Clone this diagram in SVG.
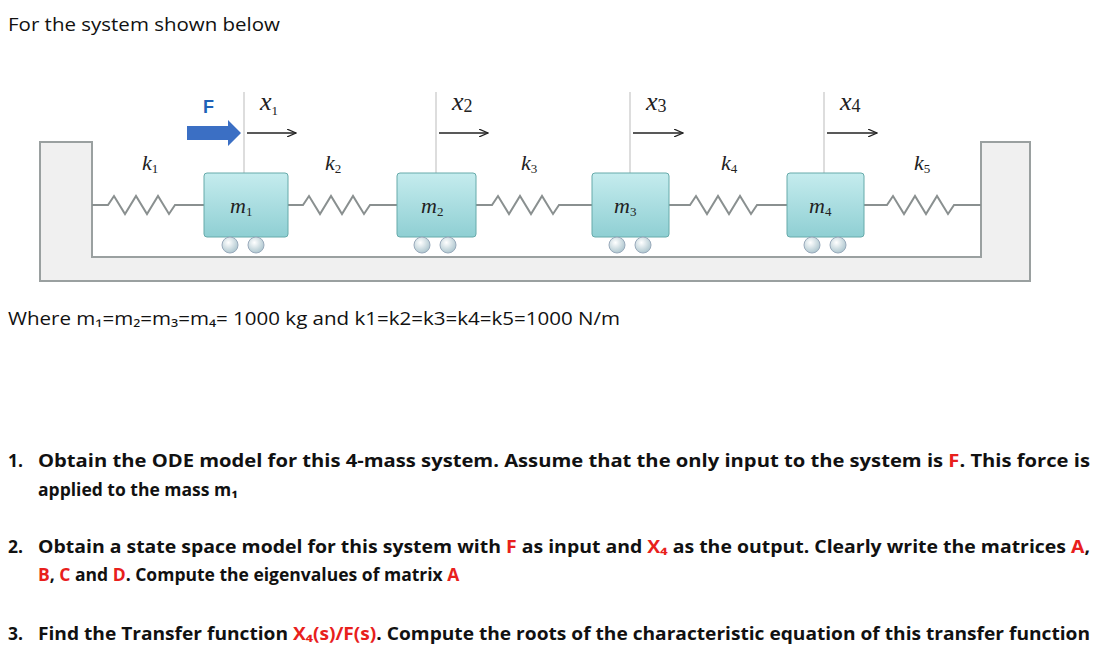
<svg xmlns="http://www.w3.org/2000/svg" width="1113" height="672" viewBox="0 0 1113 672">
<style>
.t{font-family:"Open Sans","Liberation Sans",sans-serif;font-size:18px;fill:#111}
.b{font-family:"Open Sans","Liberation Sans",sans-serif;font-size:17.5px;font-weight:bold;fill:#111}
.r{fill:#e8201c}
.m{font-family:"Liberation Serif",serif;font-style:italic;font-size:22px;fill:#222}
.x{font-size:26px}
.s{font-size:13px;font-style:normal}
.s2{font-size:18px;font-style:normal}
.sp{fill:none;stroke:#8a9090;stroke-width:2}
.mass{fill:url(#mg);stroke:#6aa;stroke-width:1}
.vl{stroke:#bbb;stroke-width:1}
.ar{stroke:#222;stroke-width:1.3;marker-end:url(#ah)}
.wh{fill:url(#wg);stroke:#9ab}
</style>
<defs>
<linearGradient id="mg" x1="0" y1="0" x2="0" y2="1"><stop offset="0" stop-color="#c5ecee"/><stop offset="1" stop-color="#8fcfd3"/></linearGradient>
<radialGradient id="wg" cx="0.4" cy="0.35" r="0.7"><stop offset="0" stop-color="#ffffff"/><stop offset="1" stop-color="#a9c3cc"/></radialGradient>
<marker id="ah" markerWidth="10" markerHeight="8" refX="9" refY="4" orient="auto" markerUnits="userSpaceOnUse"><path d="M0,0 L9,4 L0,8" fill="none" stroke="#222" stroke-width="1.2"/></marker>
</defs>
<rect width="1113" height="672" fill="#fff"/>
<text class="t" x="8" y="31" style="font-size:19px" textLength="272" lengthAdjust="spacingAndGlyphs">For the system shown below</text>
<g id="base">
<path d="M40,142 H92 V257 H981 V142 H1030 V281 H40 Z" fill="#f0f0f0" stroke="#9aa0a0" stroke-width="2"/>
</g>
<g id="connectors">
<path class="sp" d="M92,205 H108 l6,-9 l11,18 l11,-18 l11,18 l11,-18 l11,18 l6,-9 H204"/>
<path class="sp" d="M288,205 H303 l6,-9 l11,18 l11,-18 l11,18 l11,-18 l11,18 l6,-9 H397"/>
<path class="sp" d="M476,205 H492 l6,-9 l11,18 l11,-18 l11,18 l11,-18 l11,18 l6,-9 H592"/>
<path class="sp" d="M669,205 H690 l6,-9 l11,18 l11,-18 l11,18 l11,-18 l11,18 l6,-9 H787"/>
<path class="sp" d="M864,205 H887 l6,-9 l11,18 l11,-18 l11,18 l11,-18 l11,18 l6,-9 H981"/>
<line class="vl" x1="244" y1="92" x2="244" y2="173"/>
<line class="vl" x1="436" y1="92" x2="436" y2="173"/>
<line class="vl" x1="630" y1="92" x2="630" y2="173"/>
<line class="vl" x1="824" y1="92" x2="824" y2="173"/>
<line class="ar" x1="247" y1="133" x2="296" y2="133"/>
<line class="ar" x1="439" y1="133" x2="488" y2="133"/>
<line class="ar" x1="633" y1="133" x2="683" y2="133"/>
<line class="ar" x1="827" y1="133" x2="877" y2="133"/>
<path d="M187,126 H228 V120 L241,133 L228,146 V140 H187 Z" fill="#3b6fc4"/>
</g>
<text x="203" y="113" font-family="Liberation Sans,sans-serif" font-weight="bold" font-size="18" fill="#1f62b8">F</text>
<text class="m x" x="260" y="110">x<tspan class="s" dy="5">1</tspan></text>
<text class="m x" x="452" y="110">x<tspan class="s2" dy="2">2</tspan></text>
<text class="m x" x="646" y="110">x<tspan class="s2" dy="2">3</tspan></text>
<text class="m x" x="840" y="110">x<tspan class="s2" dy="2">4</tspan></text>
<text class="m" x="142" y="170">k<tspan class="s" dy="3">1</tspan></text>
<text class="m" x="325" y="170">k<tspan class="s" dy="3">2</tspan></text>
<text class="m" x="521" y="170">k<tspan class="s" dy="3">3</tspan></text>
<text class="m" x="721" y="170">k<tspan class="s" dy="3">4</tspan></text>
<text class="m" x="914" y="170">k<tspan class="s" dy="3">5</tspan></text>
<g id="m1"><rect class="mass" x="204" y="173" width="84" height="64" rx="3"/><circle class="wh" cx="230" cy="245" r="8"/><circle class="wh" cx="256" cy="245" r="8"/><text class="m" x="230" y="213">m<tspan class="s" dy="3">1</tspan></text></g>
<g id="m2"><rect class="mass" x="397" y="173" width="79" height="64" rx="3"/><circle class="wh" cx="422" cy="245" r="8"/><circle class="wh" cx="448" cy="245" r="8"/><text class="m" x="421" y="213">m<tspan class="s" dy="3">2</tspan></text></g>
<g id="m3"><rect class="mass" x="592" y="173" width="77" height="64" rx="3"/><circle class="wh" cx="617" cy="245" r="8"/><circle class="wh" cx="643" cy="245" r="8"/><text class="m" x="614" y="213">m<tspan class="s" dy="3">3</tspan></text></g>
<g id="m4"><rect class="mass" x="787" y="173" width="77" height="64" rx="3"/><circle class="wh" cx="812" cy="245" r="8"/><circle class="wh" cx="838" cy="245" r="8"/><text class="m" x="809" y="213">m<tspan class="s" dy="3">4</tspan></text></g>
<text class="t" x="8" y="325" textLength="612" lengthAdjust="spacingAndGlyphs">Where m₁=m₂=m₃=m₄= 1000 kg and k1=k2=k3=k4=k5=1000 N/m</text>
<text class="b" x="8" y="467">1.</text>
<text class="b" x="38" y="467" textLength="1052" lengthAdjust="spacingAndGlyphs">Obtain the ODE model for this 4-mass system. Assume that the only input to the system is <tspan class="r">F</tspan>. This force is</text>
<text class="b" x="38" y="496">applied to the mass m₁</text>
<text class="b" x="8" y="553">2.</text>
<text class="b" x="38" y="553" textLength="1052" lengthAdjust="spacingAndGlyphs">Obtain a state space model for this system with <tspan class="r">F</tspan> as input and <tspan class="r">X₄</tspan> as the output. Clearly write the matrices <tspan class="r">A</tspan>,</text>
<text class="b" x="38" y="581"><tspan class="r">B</tspan>, <tspan class="r">C</tspan> and <tspan class="r">D</tspan>. Compute the eigenvalues of matrix <tspan class="r">A</tspan></text>
<text class="b" x="8" y="640">3.</text>
<text class="b" x="38" y="640" textLength="1052" lengthAdjust="spacingAndGlyphs">Find the Transfer function <tspan class="r">X₄(s)/F(s)</tspan>. Compute the roots of the characteristic equation of this transfer function</text>
</svg>
